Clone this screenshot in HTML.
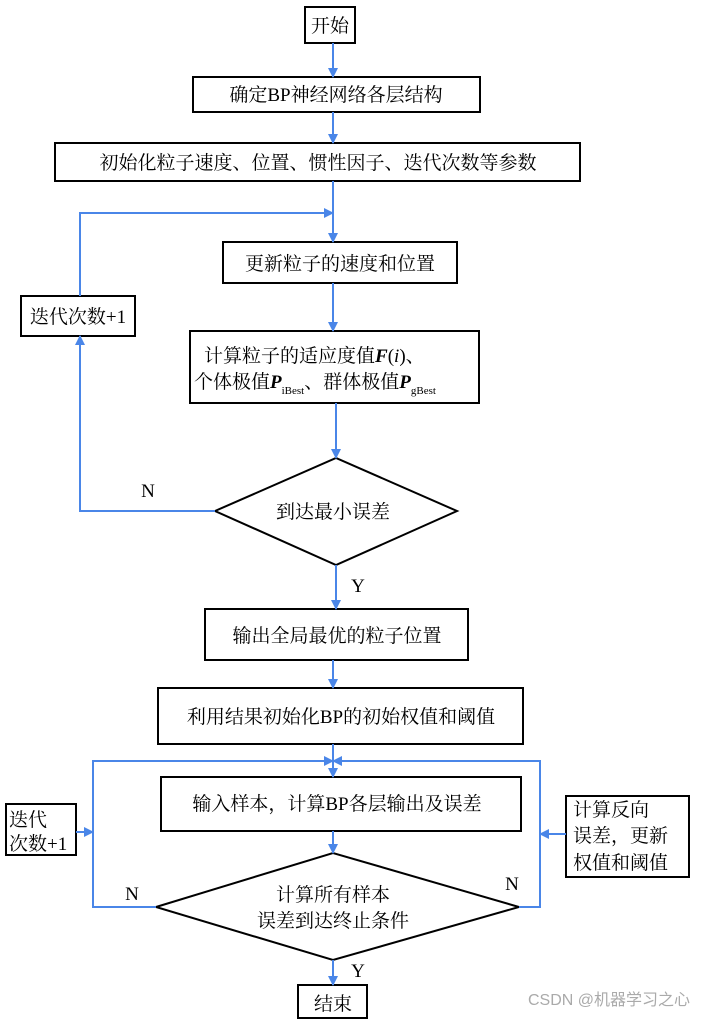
<!DOCTYPE html>
<html><head><meta charset="utf-8"><style>
html,body{margin:0;padding:0;background:#fff;}
svg{display:block;}
text{font-family:"Liberation Serif","Noto Serif CJK SC","Noto Sans CJK SC",serif;font-size:19px;fill:#000;}
</style></head><body>
<svg width="704" height="1019" viewBox="0 0 704 1019" xmlns="http://www.w3.org/2000/svg">
<defs><marker id="a" markerWidth="10" markerHeight="10" refX="9" refY="5" orient="auto" markerUnits="userSpaceOnUse"><path d="M0,0 L10,5 L0,10 z" fill="#4a86e8"/></marker></defs>
<g fill="none" stroke="#000" stroke-width="2">
<rect x="305" y="7" width="50" height="36"/>
<rect x="193" y="77" width="287" height="35"/>
<rect x="55" y="143" width="525" height="38"/>
<rect x="223" y="242" width="234" height="41"/>
<rect x="21" y="296" width="114" height="40"/>
<rect x="190" y="331" width="289" height="72"/>
<polygon points="215,511 336,458 457,511 336,565"/>
<rect x="205" y="609" width="263" height="51"/>
<rect x="158" y="688" width="365" height="56"/>
<rect x="161" y="777" width="360" height="54"/>
<rect x="6" y="804" width="70" height="51"/>
<rect x="566" y="796" width="123" height="81"/>
<polygon points="156,907 333,853 519,907 333,960"/>
<rect x="298" y="985" width="69" height="33"/>
</g>
<g fill="none" stroke="#4a86e8" stroke-width="2" marker-end="url(#a)">
<line x1="333" y1="43" x2="333" y2="77"/>
<line x1="333" y1="112" x2="333" y2="143"/>
<line x1="333" y1="181" x2="333" y2="242"/>
<polyline points="80,296 80,213 333,213"/>
<line x1="333" y1="283" x2="333" y2="331"/>
<polyline points="215,511 80,511 80,336"/>
<line x1="336" y1="403" x2="336" y2="458"/>
<line x1="336" y1="565" x2="336" y2="609"/>
<line x1="333" y1="660" x2="333" y2="688"/>
<line x1="333" y1="744" x2="333" y2="777"/>
<polyline points="156,907 93,907 93,761 333,761"/>
<polyline points="519,907 540,907 540,761 333,761"/>
<line x1="76" y1="832" x2="93" y2="832"/>
<line x1="566" y1="834" x2="540" y2="834"/>
<line x1="333" y1="831" x2="333" y2="853"/>
<line x1="333" y1="960" x2="333" y2="985"/>
</g>
<text x="330" y="32" text-anchor="middle">开始</text>
<text x="336" y="101" text-anchor="middle">确定BP神经网络各层结构</text>
<text x="318" y="169" text-anchor="middle">初始化粒子速度、位置、惯性因子、迭代次数等参数</text>
<text x="340" y="270" text-anchor="middle">更新粒子的速度和位置</text>
<text x="78" y="323" text-anchor="middle">迭代次数+1</text>
<text x="204" y="362">计算粒子的适应度值<tspan font-weight="bold" font-style="italic">F</tspan>(<tspan font-style="italic">i</tspan>)、</text>
<text x="194" y="388">个体极值<tspan font-weight="bold" font-style="italic">P</tspan><tspan font-size="11" dy="6">iBest</tspan><tspan dy="-6">、群体极值</tspan><tspan font-weight="bold" font-style="italic">P</tspan><tspan font-size="11" dy="6">gBest</tspan></text>
<text x="333" y="518" text-anchor="middle">到达最小误差</text>
<text x="148" y="497" text-anchor="middle">N</text>
<text x="358" y="592" text-anchor="middle">Y</text>
<text x="337" y="642" text-anchor="middle">输出全局最优的粒子位置</text>
<text x="341" y="723" text-anchor="middle">利用结果初始化BP的初始权值和阈值</text>
<text x="337" y="810" text-anchor="middle">输入样本，计算BP各层输出及误差</text>
<text x="9" y="826">迭代</text>
<text x="9" y="850">次数+1</text>
<text x="573" y="816">计算反向</text>
<text x="573" y="842">误差，更新</text>
<text x="573" y="869">权值和阈值</text>
<text x="333" y="901" text-anchor="middle">计算所有样本</text>
<text x="333" y="927" text-anchor="middle">误差到达终止条件</text>
<text x="132" y="900" text-anchor="middle">N</text>
<text x="512" y="890" text-anchor="middle">N</text>
<text x="358" y="977" text-anchor="middle">Y</text>
<text x="333" y="1010" text-anchor="middle">结束</text>
<text x="690" y="1005" text-anchor="end" style="font-family:'Liberation Sans','Noto Sans CJK SC',sans-serif;font-size:16px;fill:#aaa">CSDN @机器学习之心</text>
</svg>
</body></html>
